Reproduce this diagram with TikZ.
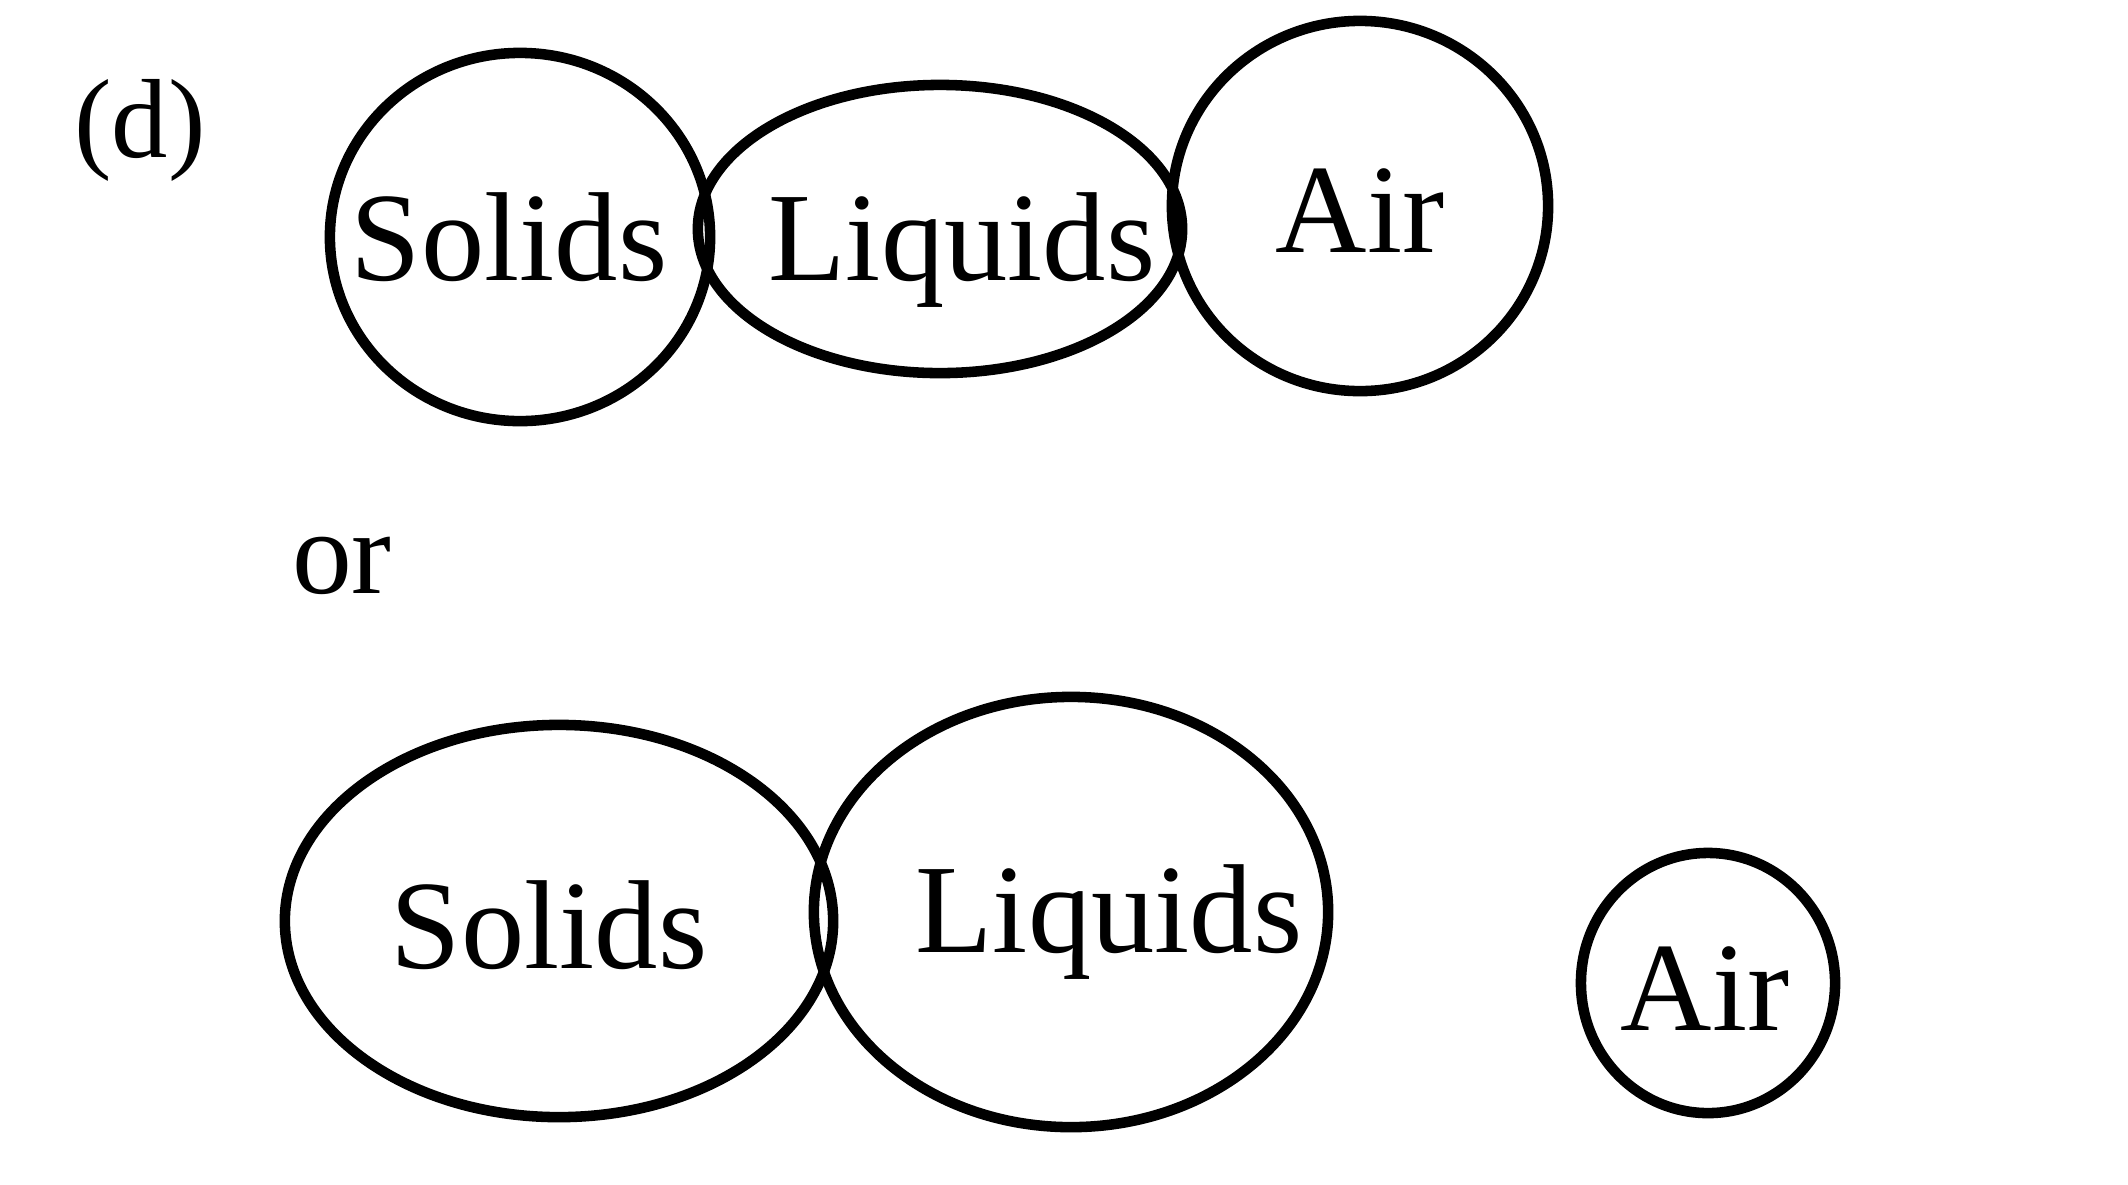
\documentclass[tikz,border=0pt]{standalone}
\usepackage{fontspec}
\setmainfont{Liberation Serif}
\usetikzlibrary{shapes.geometric, positioning}

\begin{document}
\begin{tikzpicture}[x=0.01cm,y=-0.01cm,
 set node/.style={ellipse,draw,line width=3pt,inner sep=0pt},
 name node/.style={anchor=base,inner sep=0pt,font=\fontsize{36}{40}\selectfont}]
  \useasboundingbox (0,0) rectangle (2128,1184);

  % first way
  \node[anchor=base,font=\fontsize{32}{36}\selectfont] (d) at (140,157) {(d)};
  \node[set node,minimum width=3.80cm,minimum height=3.68cm] (S1) at (520,237) {};
  \node[set node,minimum width=4.84cm,minimum height=2.88cm] (L1) at (940,229) {};
  \node[set node,minimum width=3.76cm,minimum height=3.70cm] (A1) at (1360,206) {};
  \node[name node] (s1) at (509,280) {Solids};
  \node[name node] (l1) at (962,280) {Liquids};
  \node[name node] (a1) at (1360,252) {Air};

  \node[anchor=base,font=\fontsize{34}{38}\selectfont] (or) at (342,593) {or};

  % second way
  \node[set node,minimum width=5.48cm,minimum height=3.92cm] (S2) at (559,921) {};
  \node[set node,minimum width=5.14cm,minimum height=4.30cm] (L2) at (1071,912) {};
  \node[set node,minimum width=2.54cm,minimum height=2.60cm] (A2) at (1708,983) {};
  \node[name node] (s2) at (549,968) {Solids};
  \node[name node] (l2) at (1109,952) {Liquids};
  \node[name node] (a2) at (1705,1030) {Air};
\end{tikzpicture}
\end{document}
